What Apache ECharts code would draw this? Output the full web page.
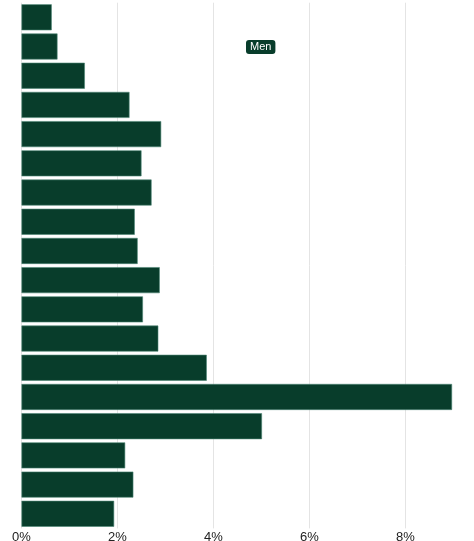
<!DOCTYPE html>
<html>
<head>
<meta charset="utf-8">
<script src="https://cdn.jsdelivr.net/npm/echarts@6/dist/echarts.min.js"></script>
<style>
  html, body { margin: 0; padding: 0; background: #fff; }
  #chart { width: 474px; height: 541px; }
</style>
</head>
<body>
<div id="chart"></div>
<script>
// age bands, bottom to top
const categories = ['0-4', '5-9', '10-14', '15-19', '20-24', '25-29', '30-34', '35-39', '40-44',
  '45-49', '50-54', '55-59', '60-64', '65-69', '70-74', '75-79', '80-84', '85+'];
const menValues = [1.93, 2.33, 2.16, 5.01, 8.97, 3.86, 2.85, 2.53, 2.88,
  2.42, 2.36, 2.71, 2.50, 2.91, 2.25, 1.32, 0.75, 0.63];
const xTicks = [0, 2, 4, 6, 8];

let chart = echarts.init(document.getElementById('chart'));
let option = {
  backgroundColor: '#fff',
  animation: false,
  textStyle: { fontFamily: 'Liberation Sans, Arial, sans-serif' },
  legend: {
    data: ['Men'],
    left: 236,
    top: 35,
    icon: 'none',
    itemWidth: 0,
    itemHeight: 0,
    itemGap: 0,
    selectedMode: false,
    textStyle: {
      color: '#fff',
      fontSize: 11,
      backgroundColor: '#083d2b',
      borderRadius: 3,
      padding: [2, 4, 1, 4]
    }
  },
  grid: { left: 21.5, right: 20.5, top: 2.7, bottom: 12.6, containLabel: false, outerBoundsMode: 'none' },
  xAxis: {
    type: 'value',
    min: 0,
    max: 9,
    interval: 2,
    axisLine: { show: false },
    axisTick: { show: false },
    splitLine: { showMaxLine: false, lineStyle: { color: '#e4e4e4', width: 1 } },
    axisLabel: {
      color: '#222',
      fontSize: 13,
      margin: 3,
      showMaxLabel: false,
      formatter: function (v) {
        return xTicks.indexOf(v) >= 0 ? v + '%' : '';
      }
    }
  },
  yAxis: {
    type: 'category',
    data: categories,
    axisLine: { show: false },
    axisTick: { show: false },
    axisLabel: { show: false },
    splitLine: { show: false }
  },
  series: [{
    name: 'Men',
    type: 'bar',
    data: menValues,
    barCategoryGap: '11%',
    itemStyle: {
      color: '#083d2b',
      borderColor: '#4d8676',
      borderWidth: 0.6
    }
  }]
};
chart.setOption(option);
</script>
</body>
</html>
